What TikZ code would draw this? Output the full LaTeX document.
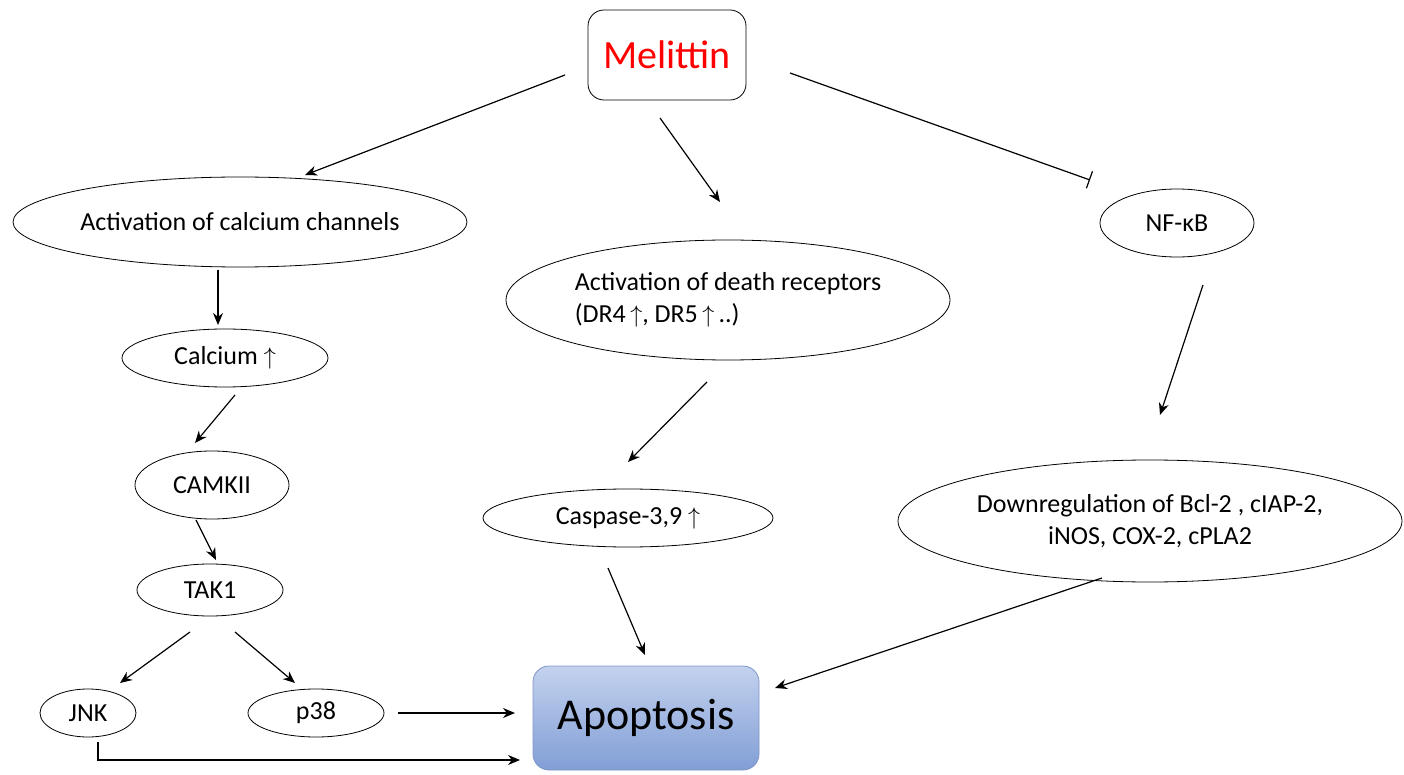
\documentclass[tikz,border=0pt]{standalone}
\usepackage{fontspec}
\setmainfont{Carlito}
\usetikzlibrary{shapes.geometric,arrows.meta}
\definecolor{apotop}{HTML}{C3D2EE}
\definecolor{apobot}{HTML}{819ED6}
\definecolor{apodraw}{HTML}{7F95C6}
\begin{document}
\begin{tikzpicture}[x=0.5pt,y=-0.5pt,
  el/.style={draw,ellipse,inner sep=0pt,font=\fontsize{13}{16}\selectfont,align=center},
  ar/.style={-{Stealth[length=6pt,width=5pt]},line width=0.6pt},
  tee/.style={-{Bar[width=9pt]},line width=0.6pt}]
\useasboundingbox (0,0) rectangle (1404,775);
\node[draw,rounded corners=8pt,minimum width=79pt,minimum height=45pt,text=red,font=\fontsize{20}{24}\selectfont] (mel) at (667,55) {Melittin};
\node[el,minimum width=227pt,minimum height=45pt] (cch) at (240,222) {Activation of calcium channels};
\node[el,minimum width=103pt,minimum height=29pt] (ca) at (225,358) {Calcium $\uparrow$};
\node[el,minimum width=77pt,minimum height=34pt] (cam) at (212,485) {CAMKII};
\node[el,minimum width=73pt,minimum height=26pt] (tak) at (210,590) {TAK1};
\node[el,minimum width=48pt,minimum height=24pt] (jnk) at (88,713) {JNK};
\node[el,minimum width=68pt,minimum height=24pt] (p38) at (316,713) {p38};
\node[el,minimum width=222pt,minimum height=60pt,align=left] (dr) at (728,300) {Activation of death receptors\\(DR4\,$\uparrow$, DR5\,$\uparrow$\,..)};
\node[el,minimum width=145pt,minimum height=29pt] (cas) at (628,518) {Caspase-3,9 $\uparrow$};
\node[el,minimum width=77pt,minimum height=34pt] (nf) at (1177,223) {NF-κB};
\node[el,minimum width=252pt,minimum height=61pt] (down) at (1150,521) {Downregulation of Bcl-2 , cIAP-2,\\iNOS, COX-2, cPLA2};
\node[draw=apodraw,rounded corners=8pt,minimum width=113pt,minimum height=52pt,top color=apotop,bottom color=apobot,font=\fontsize{22}{26}\selectfont] (apo) at (646,718) {Apoptosis};
\coordinate (a1) at (565,75); \coordinate (a2) at (305,175);
\coordinate (b1) at (660,118); \coordinate (b2) at (720,202);
\coordinate (c1) at (790,73); \coordinate (c2) at (1090,180);
\coordinate (d1) at (218,270); \coordinate (d2) at (218,325);
\coordinate (e1) at (235,395); \coordinate (e2) at (195,443);
\coordinate (f1) at (196,520); \coordinate (f2) at (216,560);
\coordinate (g1) at (190,632); \coordinate (g2) at (120,683);
\coordinate (h1) at (235,632); \coordinate (h2) at (295,683);
\coordinate (i1) at (398,713); \coordinate (i2) at (515,713);
\coordinate (j1) at (98,742); \coordinate (j2) at (520,760);
\coordinate (k1) at (707,382); \coordinate (k2) at (628,462);
\coordinate (l1) at (608,568); \coordinate (l2) at (645,655);
\coordinate (m1) at (1203,285); \coordinate (m2) at (1160,415);
\coordinate (n1) at (1102,578); \coordinate (n2) at (775,688);
\draw[ar] (a1)--(a2);
\draw[ar] (b1)--(b2);
\draw[tee] (c1)--(c2);
\draw[ar] (d1)--(d2);
\draw[ar] (e1)--(e2);
\draw[ar] (f1)--(f2);
\draw[ar] (g1)--(g2);
\draw[ar] (h1)--(h2);
\draw[ar] (i1)--(i2);
\draw[ar] (j1)|-(j2);
\draw[ar] (k1)--(k2);
\draw[ar] (l1)--(l2);
\draw[ar] (m1)--(m2);
\draw[ar] (n1)--(n2);
\end{tikzpicture}
\end{document}
